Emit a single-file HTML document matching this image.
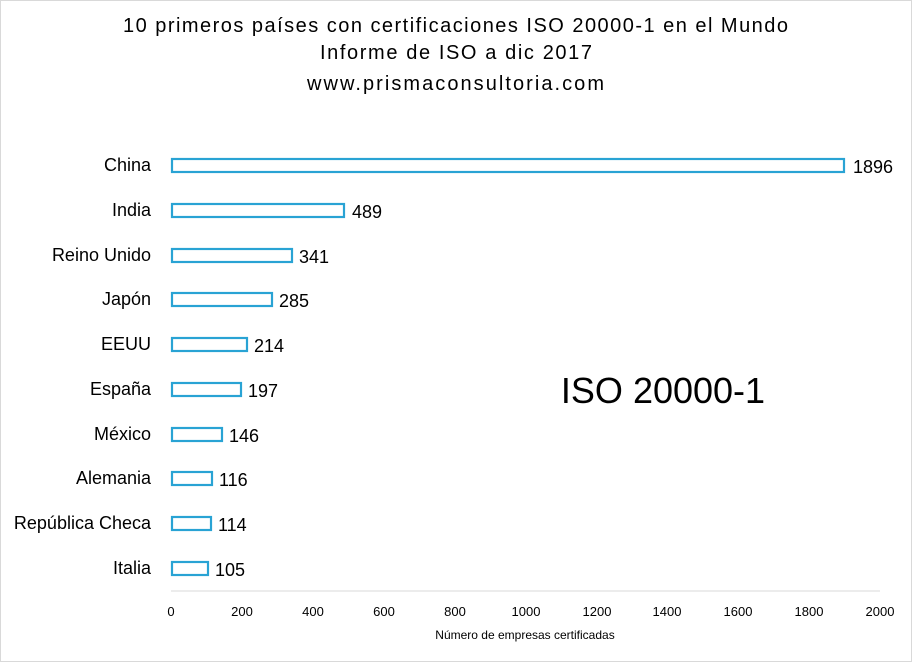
<!DOCTYPE html>
<html><head><meta charset="utf-8"><style>
html,body{margin:0;padding:0;background:#fff}
svg{display:block}
text{font-family:"Liberation Sans",sans-serif;fill:#000}
</style></head><body>
<svg width="912" height="662" viewBox="0 0 912 662" xmlns="http://www.w3.org/2000/svg">
<rect x="0.5" y="0.5" width="911" height="661" fill="#fff" stroke="#d9d9d9"/>
<g font-size="20">
<text x="123" y="32" textLength="665" lengthAdjust="spacing">10 primeros países con certificaciones ISO 20000-1 en el Mundo</text>
<text x="320" y="59" textLength="272" lengthAdjust="spacing">Informe de ISO  a dic 2017</text>
<text x="307" y="90" textLength="297" lengthAdjust="spacing">www.prismaconsultoria.com</text>
</g>
<line x1="171" y1="591" x2="880" y2="591" stroke="#d9d9d9" stroke-width="1"/>
<g font-size="13" text-anchor="middle">
<text x="171" y="616">0</text><text x="242" y="616">200</text><text x="313" y="616">400</text><text x="384" y="616">600</text><text x="455" y="616">800</text><text x="526" y="616">1000</text><text x="597" y="616">1200</text><text x="667" y="616">1400</text><text x="738" y="616">1600</text><text x="809" y="616">1800</text><text x="880" y="616">2000</text>
</g>
<text x="525" y="639" font-size="12" text-anchor="middle">Número de empresas certificadas</text>
<text x="663" y="403" font-size="36" text-anchor="middle">ISO 20000-1</text>
<g fill="none" stroke="#29a3d4" stroke-width="2.2">
<rect x="172" y="159" width="672" height="13"/>
<rect x="172" y="204" width="172" height="13"/>
<rect x="172" y="249" width="120" height="13"/>
<rect x="172" y="293" width="100" height="13"/>
<rect x="172" y="338" width="75" height="13"/>
<rect x="172" y="383" width="69" height="13"/>
<rect x="172" y="428" width="50" height="13"/>
<rect x="172" y="472" width="40" height="13"/>
<rect x="172" y="517" width="39" height="13"/>
<rect x="172" y="562" width="36" height="13"/>
</g>
<g font-size="18" text-anchor="end">
<text x="151" y="171">China</text><text x="151" y="216">India</text><text x="151" y="261">Reino Unido</text><text x="151" y="305">Japón</text><text x="151" y="350">EEUU</text><text x="151" y="395">España</text><text x="151" y="440">México</text><text x="151" y="484">Alemania</text><text x="151" y="529">República Checa</text><text x="151" y="574">Italia</text>
</g>
<g font-size="18">
<text x="853" y="173">1896</text><text x="352" y="218">489</text><text x="299" y="263">341</text><text x="279" y="307">285</text><text x="254" y="352">214</text><text x="248" y="397">197</text><text x="229" y="442">146</text><text x="219" y="486">116</text><text x="218" y="531">114</text><text x="215" y="576">105</text>
</g>
</svg>
</body></html>
